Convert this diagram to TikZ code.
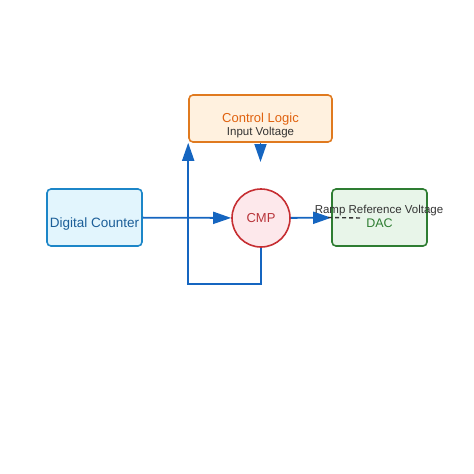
\documentclass[tikz,border=0pt]{standalone}
\usepackage{fontspec}
\setmainfont{Liberation Sans}
\usepackage{tikz}
\usetikzlibrary{arrows.meta}

\definecolor{ctrlline}{HTML}{E07A1F}
\definecolor{ctrlfill}{HTML}{FFF1DF}
\definecolor{ctrltext}{HTML}{E0620F}
\definecolor{cntline}{HTML}{1C86C8}
\definecolor{cntfill}{HTML}{E2F5FD}
\definecolor{cnttext}{HTML}{1B5E98}
\definecolor{cmpline}{HTML}{C62E32}
\definecolor{cmpfill}{HTML}{FDE8EB}
\definecolor{cmptext}{HTML}{B8343A}
\definecolor{dacline}{HTML}{2E7D32}
\definecolor{dacfill}{HTML}{E8F5E9}
\definecolor{dactext}{HTML}{2E7D32}
\definecolor{wire}{HTML}{1565C0}
\definecolor{labtext}{HTML}{333333}

\begin{document}
\begin{tikzpicture}[x=1pt, y=-1pt,
    box/.style={rectangle, rounded corners=4pt, line width=1.6pt, inner sep=0pt},
    low/.style={text height=19pt, text depth=0pt},
    lab/.style={inner sep=0pt, text=labtext, font=\fontsize{11.5}{13}\selectfont},
    arr/.style={line width=1.8pt, draw=wire, -{Triangle[length=18pt, width=12pt]}}]
      \useasboundingbox (0, 0) rectangle (474, 474);

      \node[box, text height=8.5pt, text depth=0pt, draw=ctrlline, fill=ctrlfill, minimum width=143pt, minimum height=47pt, text=ctrltext, font=\fontsize{13}{15}\selectfont] (ctrl) at (260.5, 118.5) {Control Logic};
      \node[box, low, draw=cntline, fill=cntfill, minimum width=95pt, minimum height=57pt, text=cnttext, font=\fontsize{13.5}{15}\selectfont] (counter) at (94.5, 217.5) {Digital Counter};
      \node[circle, line width=1.6pt, draw=cmpline, fill=cmpfill, minimum size=58pt, inner sep=0pt, text=cmptext, font=\fontsize{13}{15}\selectfont] (cmp) at (261, 218) {CMP};
      \node[box, low, draw=dacline, fill=dacfill, minimum width=95pt, minimum height=57pt, text=dactext, font=\fontsize{12.5}{14}\selectfont] (dac) at (379.5, 217.5) {DAC};

      \coordinate (invend) at (260.5, 162);
      \coordinate (loopR) at (261, 284);
      \coordinate (loopL) at (ctrl.south west |- loopR);
      \coordinate (dashend) at (360, 218);

      \draw[arr] (counter) -- (cmp);
      \draw[arr] (cmp) -- (dac);
      \draw[arr] (ctrl.south) -- (invend);
      \draw[arr] (cmp.south) -- (loopR) -- (loopL) -- (ctrl.south west);
      \draw[line width=1.4pt, draw=labtext, dash pattern=on 4pt off 3pt] ([xshift=-3pt]dac.west) -- (dashend);

      \node[lab] (inlab) at (260.5, 133) {Input Voltage};
      \node[lab] (ramplab) at (379, 210.5) {Ramp Reference Voltage};
    \end{tikzpicture}
\end{document}
